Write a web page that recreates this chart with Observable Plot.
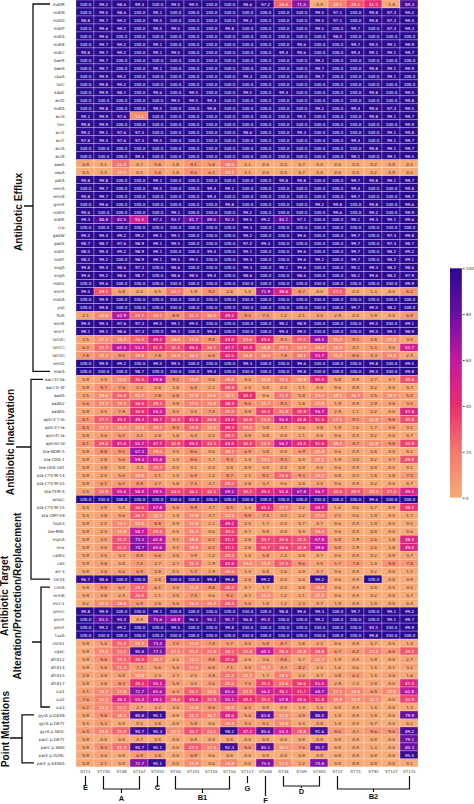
<!DOCTYPE html>
<html><head><meta charset="utf-8">
<script src="https://cdn.jsdelivr.net/npm/d3@7"></script>
<script src="https://cdn.jsdelivr.net/npm/@observablehq/plot@0.6"></script>
<style>html,body{margin:0;padding:0;background:#fff}#wrap{position:relative;width:474px;height:804px;overflow:hidden}#wrap svg{position:absolute;left:0;top:0;background:transparent}</style>
</head><body><div id="wrap"></div>
<script>
const columns = ["ST11","ST730","ST48","ST167","ST410","ST58","ST101","ST155","ST156","ST117","ST648","ST38","ST69","ST405","ST12","ST73","ST95","ST127","ST131"];
const effluxRows = ["mdtM","mdtN","mdtO","mdtP","mdtA","mdtB","mdtC","baeR","baeS","cpxA","tolC","kdpE","acrD","mdfA","acrS","hns","acrE","acrF","acrA","acrB","aaeA","sepA","patA","emrA","emrB","gmrK","mdtH","mdtK","crp","gadW","gadX","mdtE","mdtF","evgA","evgS","mdtG","emrE","msbA","yojI","floR","emrK","emrY","tet(A)","tet(C)","tet(D)","emrD","marA"];
const effluxValues = [
[100,99.2,98.6,99.3,100,99.5,99.5,100,100,98.6,97.2,26.6,71.5,0,18.1,29.1,41.5,1.8,89.3],
[100,99.5,98.6,100,99.1,100,100,100,100,100,100,100,100,99.5,97.1,100,99.8,97.3,99.2],
[98.8,99.7,99.2,100,99.5,100,100,100,100,99.3,100,100,100,99.5,97.1,100,99.8,97.3,99.4],
[100,99.6,99.2,100,99.5,99.5,100,100,99.8,100,100,100,100,99.5,100,99.7,100,97.3,99.3],
[100,99.6,100,100,100,100,100,100,100,100,100,100,100,100,98,100,100,100,100],
[100,99.7,99.2,100,99.1,100,100,100,100,100,100,100,99.6,100,100,99.7,99.5,99.1,99.9],
[99.8,99.7,99.2,100,99.1,99.5,100,100,100,100,100,99.4,99.6,100,100,99.4,99.1,99.1,99.7],
[100,99.7,100,100,100,100,100,100,100,100,100,100,100,99.2,100,100,100,100,100],
[100,99.7,100,100,99.1,100,100,100,100,100,100,100,100,99.7,100,100,99.8,99.1,99.9],
[100,99.9,99.2,100,100,100,100,100,100,99.3,100,100,100,99.7,100,100,100,99.1,100],
[100,99.8,99.2,100,100,100,100,100,100,100,100,100,100,100,100,100,100,100,100],
[100,99.9,98.1,100,99.6,100,99.5,100,100,99.5,100,99.4,100,100,100,100,99.8,100,99.5],
[100,100,100,100,100,99.5,99.5,99.4,100,100,100,100,100,100,100,100,100,100,99.8],
[100,99.8,100,100,99.5,100,100,99.8,100,100,100,100,100,99.2,100,99.4,99.6,97.3,99.5],
[99.1,99.9,97.6,13.1,100,100,100,100,100,100,100,100,99.5,100,100,100,99.8,99.1,99.7],
[99.8,99.9,100,100,100,100,100,100,100,100,100,100,100,100,100,100,100,100,99.9],
[99.2,99.1,97.6,97.3,100,100,100,100,100,98.6,100,100,99.3,100,100,100,100,99.1,99.8],
[97.8,99.4,97.6,97.3,99.5,100,100,100,100,100,100,100,100,100,100,99.4,100,99.1,99.7],
[100,100,100,100,100,100,100,100,100,100,100,100,100,100,100,100,99.8,99.1,99.7],
[100,100,100,99.3,100,100,100,100,100,100,100,100,100,100,100,99.1,100,99.1,99.5],
[0.9,0.1,21.4,0.7,5.8,1.8,9.1,5.8,18.6,2.1,0,0,0.7,0,0,0,0.2,0.9,0.5],
[0.5,0.4,10.5,0.2,5.8,1.8,9.6,6.2,14.2,2.1,0,0,0.7,0,0,0,0.2,0.9,0.5],
[99.8,99.8,100,100,99.1,100,100,100,100,100,100,99.8,99.8,100,100,99.7,99.8,99.1,99.7],
[100,99.7,100,100,99.5,100,100,99.4,99.1,100,100,100,100,100,100,99.4,100,100,99.8],
[99.8,99.7,100,100,100,100,100,99.4,100,100,100,100,100,100,100,99.7,100,100,99.7],
[100,99.6,100,100,100,100,100,100,99.8,100,100,100,100,99.2,99.8,100,99.8,100,99.6],
[99.6,100,100,100,100,99.1,100,100,100,99.2,100,100,100,100,99.6,100,99.2,100,99.9],
[99.3,88.8,82.5,55.5,97.2,93.7,81.7,89.5,92.5,99.5,99.2,84.1,97.1,100,100,99.1,99.3,99.1,99.6],
[100,100,100,100,100,100,100,100,100,99.3,100,100,100,100,100,100,100,100,100],
[99.2,99.4,99.2,99.2,99.1,99.1,100,100,100,99.2,100,100,99.6,100,100,99.7,100,97.3,99.8],
[98.7,98.7,97.6,98.9,99.1,99.5,100,100,100,97.2,99.3,100,100,100,100,99.7,100,97.3,98.7],
[98.5,99.4,99.2,98.9,99.1,100,100,99.4,100,99.1,100,100,99.6,100,100,99.7,100,98.2,99.2],
[98.2,99.2,100,98.9,99.1,99.5,99.5,100,100,99.3,100,100,99.6,99.2,100,99.7,100,98.2,99.1],
[99.8,99.4,98.6,97.3,100,98.6,100,100,100,99.3,100,99.1,99.6,100,100,99.1,99.3,98.2,98.6],
[99.6,99.2,98.6,98.7,100,98.6,98.5,99.4,100,98.6,100,100,98.6,100,100,98.1,99.6,98.2,97.9],
[100,99.6,100,100,100,100,100,100,100,100,100,100,100,100,100,100,100,100,99.9],
[99.4,29.1,4.8,0.3,0.5,20.7,1.9,9.2,2.8,1.4,71.9,48.8,8.7,0,27.1,0,1.3,0,8.2],
[100,99.9,100,100,100,100,100,100,100,100,100,100,100,100,100,100,100,100,100],
[100,99.8,100,100,100,100,100,100,100,100,100,100,100,100,100,99.7,99.5,98.2,100],
[2.1,12,62.9,24.7,19.7,8.9,22.3,16,49.2,9.2,7.4,1.2,2.1,3.5,2.9,0,1.9,0,6.9],
[99.4,99.3,97.6,97.3,99.5,99.1,99.5,100,100,100,100,99.1,98.9,100,100,100,99.5,100,99.1],
[99.1,99.1,98.6,97.3,100,99.1,100,99.4,100,100,100,99.4,99.5,100,100,100,99.5,99.1,98.9],
[3.5,11.2,14.2,26,49.2,14.9,17.8,9.8,43,24.6,44.6,9.3,27.2,68.4,15.2,9.1,4.8,11,3.5],
[6.3,23.7,61.5,53.3,41.5,31.1,46.5,26.1,47.7,42.9,14.8,20.1,14.9,16.4,13.3,4.1,5.3,4.5,52.7],
[7.8,12.7,9.5,19.8,7.8,14.9,16.1,6.8,43.5,16.8,16.5,7.9,18.1,53.7,11.4,8.5,4.3,13.4,2.4],
[100,99.9,99.2,100,99.5,99.5,100,100,100,99.3,100,100,99.6,100,100,100,99.8,100,99.5],
[100,100,100,98.7,100,100,100,99.4,100,100,100,100,99.8,100,100,100,99.5,100,99.8]
];
const inactivationRows = ["aac(3)-IIa","aac(3)-IIf","aadA","aadA2","aadA5","aph(3'')-Ib","aph(3')-Ia","aph(4)-Ia","aph(6)-Id","bla-NDM-5","bla-OXA-1","bla-OXA-181","bla-CTX-M-14","bla-CTX-M-55","bla-TEM-4","ampC","bla-CTX-M-15","bla-CMY-59","fosA3","ble-MBL","mphA","mrx","catB3","catI","arr-3","tet34"];
const inactivationValues = [
[0.9,3.4,13.5,35.5,59.8,9.2,14,5.6,18.8,4.2,10.8,19.1,10.9,45.5,4.8,0.9,3.7,3.7,30.6],
[0.9,9.7,7.6,5.2,2.8,1.8,6.4,2.1,29.9,2.5,0.8,0,1.1,0,0.6,0.9,0.2,0,0.7],
[3.5,10.6,25.4,12.7,7.8,6.8,12.8,11.6,12.1,40.1,0.6,21.2,5,13.4,10.1,16.7,3.5,10.7,5],
[6.6,13.3,19.4,36.9,29.1,4.9,17.5,15.8,38.4,9.6,11.7,9.3,1.8,11.9,1.9,0.9,2.9,3.6,3.5],
[0.9,3.5,7.9,40.9,54.3,4.5,3.5,7.5,21.5,4.9,35.5,21.3,35.9,56.7,2.9,1.1,2.2,0,47.8],
[8.1,27.7,45.2,49.3,46.7,32.4,42.8,30.8,43,30.9,23.8,55.5,42.8,41.6,17.1,9.1,12.8,9.8,30.8],
[8.4,13.7,14.3,13.3,19.3,9.5,24.8,12.3,39.3,20.4,3.8,3.7,3.6,3.8,1.9,1.6,1.7,3.6,3.1],
[0.9,4.6,6.5,4.2,2.8,1.8,4.4,2.5,29.5,4.9,0.8,0,1.1,0,0.6,0.9,0.2,0,0.7],
[8.1,29.2,47.6,52.7,47.7,32.9,46.5,33.3,44,35.2,23.9,56.7,43.5,41.6,18.2,9.7,12.8,9.8,33.9],
[0.9,8.8,9.5,67.3,19.6,3.5,8.6,0.6,18.7,6.9,3.8,0,6.9,11.8,0.6,0.9,0.8,0,0.2],
[0.9,2.8,5.6,59.3,55.8,1.4,8.6,1.7,9.3,1.4,13.1,9.3,0.4,12.1,1.9,3.5,0.2,3.7,29.9],
[0.9,3.8,0,3.3,23.7,0,0.1,0,0,0.9,0,0,0,0,0.6,0.9,0,0,0.1],
[0.9,2.4,5.6,14,5.1,1.4,6.9,1.2,8.7,2.1,9.1,25.6,9.3,14.2,0.8,0.3,1.8,1.8,7],
[0.9,6.1,6.5,8.9,3.7,1.8,7.4,3.7,24.5,2.8,3.7,0.6,0,3.5,0.6,0.9,0.2,0,0.7],
[3.5,22.9,55.6,58.9,59.5,33.5,36.1,32.1,69.2,35.1,45.5,52.4,67.8,56.7,30.5,28.9,20.3,27.3,49.5],
[100,100,100,100,100,100,100,100,100,100,100,100,100,100,100,100,99.6,100,100],
[0.4,3.9,0.4,36,57.8,5.6,9.9,3.7,8.5,1.4,42.1,17.7,3.2,50.7,1.6,0.6,0.7,0.9,38.1],
[0.4,3.8,4.6,26.7,12.1,1.4,12.8,3.7,13.3,9.9,7.4,4.5,2.2,17,2.5,0.6,1,0,1.7],
[0.9,2.2,13.1,12,8.8,0.9,12.8,2.1,49.2,2.5,1.7,0,0.7,0.7,0.6,0.9,1,0,0.5],
[0.9,2.4,11.9,58.7,24.8,0.5,15.3,0.6,33.6,0.7,0.8,0,0.4,19.4,0.6,0.9,0,0,0.6],
[0.9,3.5,31,73.3,62.8,4.1,18.8,6.2,41.1,2.8,33.7,34.6,31.5,57.8,4.8,1.9,2.6,1.8,48.5],
[0.9,3.6,31,74.7,63.6,4.1,18.8,6.2,41.1,2.8,33.7,34.6,31.9,59.6,4.8,1.9,2.6,1.8,49],
[0.9,3.5,3.3,8.9,6.6,3.5,3.9,1.2,24.3,1.4,5.8,2.4,0,0.7,0.6,0.9,0.2,0.9,3.7],
[0.9,4.8,0.8,7.5,3.7,2.7,22.3,1.9,44.5,13.8,13.9,27.4,9.6,4.5,5.7,7.8,1.4,9.8,7.8],
[0.9,3.6,4.6,6.9,3.8,0.5,5.4,1.9,20.6,1.4,0.8,1.6,0,0.7,0.6,0.9,0.2,0,1.1],
[96.7,98.6,100,100,3.8,100,100,99.4,99.8,2.8,99.2,0,0,99.2,0.6,0.9,100,0.8,0.9]
];
const targetRows = ["cmlA","ermB","mcr-1","pmrC","pmrE","pmrF","tuxA","vVrS1","vgaC","dfrA12","dfrA14","dfrA15","dfrA17","sul1","sul2","sul3"];
const targetValues = [
[0.9,9.8,6.5,24.7,6.1,3.5,11.4,9.8,28.2,0.7,1.7,0,0,18.8,0.6,0.9,0,0.5,0.5],
[0.9,3.8,2.4,26.9,1.1,3.5,7.4,0.6,9.2,0.7,12.4,1.2,1.1,11.7,0.6,0.9,0.2,0,0.7],
[0.2,12.2,18.8,6.9,2.8,5.6,16.3,15.7,26.4,5.6,1.8,1.2,2.3,0.7,1.9,0.9,1,0,0.4],
[99.8,99.9,100,100,99.1,100,100,100,100,100,100,98.8,99.6,99.3,100,99.7,100,99.1,99.2],
[100,83.5,94.4,0.9,75.6,68.9,96.5,90.1,90.7,96.8,95,100,100,99.2,100,100,100,99.1,99.7],
[100,99.2,99.2,100,100,99.5,100,100,99.8,100,100,100,100,100,100,100,94.5,100,99.9],
[100,100,100,100,100,100,100,100,100,100,100,100,100,100,100,100,99.8,100,100],
[0.9,5,25.4,14.7,73.4,7.2,11.4,7.4,5.7,4.2,5.8,8.7,1.8,2.2,0.6,0.9,0.7,0.5,1],
[0.9,13.4,23,90.8,77.1,17.1,20.2,21.8,28.2,25.8,60.3,28.3,22.8,28.8,6.7,8.2,17.2,8.6,29.2],
[0.9,9.8,24.5,34,18.7,2.2,12.3,9.8,37.6,2.5,3.6,9.8,0.7,12.7,1.9,0.9,1.9,0,2.7],
[0.9,5.6,21.3,7.3,5.6,5.4,17.3,6.8,7.1,4.2,11.7,4.3,8.2,2.2,1.6,0.6,1.4,0.1,3.2],
[2.9,3.5,4,10,2.3,2.7,2.5,4.9,21.5,12.7,1.7,19.1,2.2,0.7,3.8,6.3,1.4,3.4,1.6],
[0.9,3.8,8.3,40.3,55.1,5.9,3.5,5.6,22.6,7.5,35.5,23.6,36.6,51.5,2.9,1.3,2.9,0,47.4],
[4.1,14.3,17.8,72.7,65.6,6.3,26.7,14.3,65.6,22.9,56.2,48.1,41.7,68.7,17.1,14.8,6.9,12.5,62.8],
[7.6,15.3,48.4,53.3,59.1,28.6,44.6,31.9,55.1,40.1,35.5,57.9,44.6,41.8,19.9,11.9,12.7,0,33.9],
[6.2,13.3,22.2,2.7,3.3,3.2,11.9,8.6,16,6.2,0.8,0,1.4,1.5,0,0.9,1.4,0,1.3]
];
const pointRows = ["gyrA p.D83N","gyrA p.D87Y","gyrA p.S83L","parC p.D87Y","parC p.S80I","parE p.I529L","parE p.S458A"];
const pointValues = [
[0.9,9.8,18.3,90.8,95.1,0.9,22.3,16.7,48.6,5.6,83.8,11,4,88,1,0.9,1.9,0,79.9],
[0.4,5.3,0,0.5,3.8,0,5.9,0.6,16.4,4.2,4.1,12,0.4,0.8,1,0.3,0.7,0,0.2],
[6.4,14.8,25,90.7,95.3,12.3,30.7,23.3,98.2,47.2,85.6,54.3,28.8,91.6,8.6,4.1,9.6,9.6,89.2],
[0.9,0,0,0.7,0,0,0.9,0,0,0,0,0,0,0,0,0.9,0,0,79.1],
[0.9,9.3,21.3,90.7,95.1,0,27.2,17.3,92.3,9.6,85.1,10.3,7.6,85.7,0,0.9,1.3,0,80.3],
[0.9,3.4,0,6.9,3.8,0,6.9,0.6,0,0,0,0,0,0,0,0.9,0,0,95.5],
[0.9,2.1,0,72.7,95.1,0,11.9,0.6,14.8,0,75.5,12.2,2.2,74.8,0,0.9,0,0,0.1]
];
const rowNames = [...effluxRows,...inactivationRows,...targetRows,...pointRows];
const allValues = [...effluxValues,...inactivationValues,...targetValues,...pointValues];
const cells = allValues.flatMap((vals,r)=>vals.map((v,c)=>({row:rowNames[r],col:columns[c],v})));

const colorDomain = [0,20,40,60,80,100];
const colorRange = ["#f6ab78","#f37a6f","#ea2d6f","#c41aa0","#6a0fa5","#2a0a8f"];
const colorbarTicks = [0,20,40,60,80,100];

const leftGroups = [
  {lines:["Antibiotic Efflux"], first:"mdtM", last:"marA", bar:33, topEnd:50, botEnd:50, stem:24, tickY:206, textX:[19], textY:212},
  {lines:["Antibiotic Inactivation"], first:"aac(3)-IIa", last:"tet34", bar:31, topEnd:43, botEnd:50, stem:16, tickY:447, textX:[11], textY:442},
  {lines:["Antibiotic Target","Alteration/Protection/Replacement"], first:"cmlA", last:"sul3", bar:41, topEnd:50, botEnd:50, stem:32, tickY:642, textX:[5,18], textY:596},
  {lines:["Point Mutations"], first:"gyrA p.D83N", last:"parE p.S458A", bar:22, topEnd:34, botEnd:34, stem:10, tickY:738, textX:[6], textY:729}
];
const bottomGroups = [
  {name:"E", first:"ST11", last:"ST11", drop:10, labelY:788},
  {name:"A", first:"ST730", last:"ST167", drop:13, stem:4, labelY:799},
  {name:"C", first:"ST410", last:"ST410", drop:11, labelY:788},
  {name:"B1", first:"ST58", last:"ST156", drop:13, stem:4, labelY:798},
  {name:"G", first:"ST117", last:"ST117", drop:7, labelY:789},
  {name:"F", first:"ST648", last:"ST648", drop:20, labelY:801},
  {name:"D", first:"ST38", last:"ST405", drop:10, stem:2, labelY:792},
  {name:"B2", first:"ST12", last:"ST131", drop:13, stem:3, labelY:797}
];

const ML=67, MR=46.6, MB=37.1, W=474, H=804;
const font = "'Liberation Sans', Arial, sans-serif";

function annotations(index, scales) {
  const g = d3.select(document.createElementNS("http://www.w3.org/2000/svg","g"));
  const bwX=(W-ML-MR)/columns.length, bwY=(H-MB)/rowNames.length;
  const cx=c=>scales.x(c)+bwX/2, cy=r=>scales.y(r)+bwY/2;
  for (const s of leftGroups) {
    const y0=cy(s.first), y1=cy(s.last);
    g.append("path").attr("fill","none").attr("stroke","#111").attr("stroke-width",1.3)
     .attr("d",`M${s.topEnd},${y0}H${s.bar}V${y1}H${s.botEnd}M${s.stem},${s.tickY}H${s.bar}`);
    s.lines.forEach((t,i)=>g.append("text").text(t)
      .attr("transform",`translate(${s.textX[i]},${s.textY}) rotate(-90)`)
      .attr("text-anchor","middle").attr("dominant-baseline","middle")
      .attr("font-family",font).attr("font-weight","bold").attr("font-size",10.2).attr("fill","#111"));
  }
  const top=776;
  for (const b of bottomGroups) {
    const x0=cx(b.first), x1=cx(b.last), xm=(x0+x1)/2;
    let d;
    if (b.first===b.last) d=`M${x0},${top}V${top+b.drop}`;
    else d=`M${x0},${top}V${top+b.drop}H${x1}V${top}M${xm},${top+b.drop}V${top+b.drop+b.stem}`;
    g.append("path").attr("fill","none").attr("stroke","#111").attr("stroke-width",1.2).attr("d",d);
    g.append("text").text(b.name).attr("x",xm).attr("y",b.labelY)
      .attr("text-anchor","middle").attr("dominant-baseline","middle")
      .attr("font-family",font).attr("font-weight","bold").attr("font-size",7.5).attr("fill","#111");
  }
  return g.node();
}

const heat = Plot.plot({
  width:W, height:H, marginLeft:ML, marginRight:MR, marginTop:0, marginBottom:MB,
  style:{fontFamily:"'DejaVu Sans', sans-serif", background:"transparent"},
  x:{domain:columns, padding:0, label:null, axis:null},
  y:{domain:rowNames, padding:0, label:null, axis:null},
  color:{type:"linear", domain:colorDomain, range:colorRange, interpolate:"rgb"},
  marks:[
    Plot.cell(cells,{x:"col",y:"row",fill:"v",stroke:"#ffffff",strokeOpacity:0.55,strokeWidth:0.5}),
    Plot.text(cells,{x:"col",y:"row",text:d=>d.v.toFixed(1),fontSize:4.1,
      fill:d=>d.v>=10?"#fff5f5":"#3a2a25"}),
    Plot.axisY({anchor:"left",tickSize:0,tickPadding:3,fontSize:4.1,color:"#333",label:null,tickFormat:d=>d}),
    Plot.axisX({anchor:"bottom",tickSize:0,tickPadding:3,fontSize:4.1,color:"#444",label:null}),
    annotations
  ]
});
document.getElementById("wrap").appendChild(heat);

const ramp = d3.range(0,100,1);
const bar = Plot.plot({
  width:W, height:H, marginLeft:450, marginRight:W-461.7, marginTop:268.3, marginBottom:H-497.7,
  style:{fontFamily:"'DejaVu Sans', sans-serif", background:"transparent"},
  x:{domain:[0,1], axis:null},
  y:{domain:[0,100], label:null, axis:null},
  color:{type:"linear", domain:colorDomain, range:colorRange, interpolate:"rgb"},
  marks:[
    Plot.rect(ramp,{x1:0,x2:1,y1:d=>d,y2:d=>Math.min(100,d+1.6),fill:d=>d+0.5}),
    Plot.axisY({anchor:"right",ticks:colorbarTicks,tickSize:2,tickPadding:1.5,fontSize:4.4,color:"#444",label:null})
  ]
});
document.getElementById("wrap").appendChild(bar);
</script></body></html>
